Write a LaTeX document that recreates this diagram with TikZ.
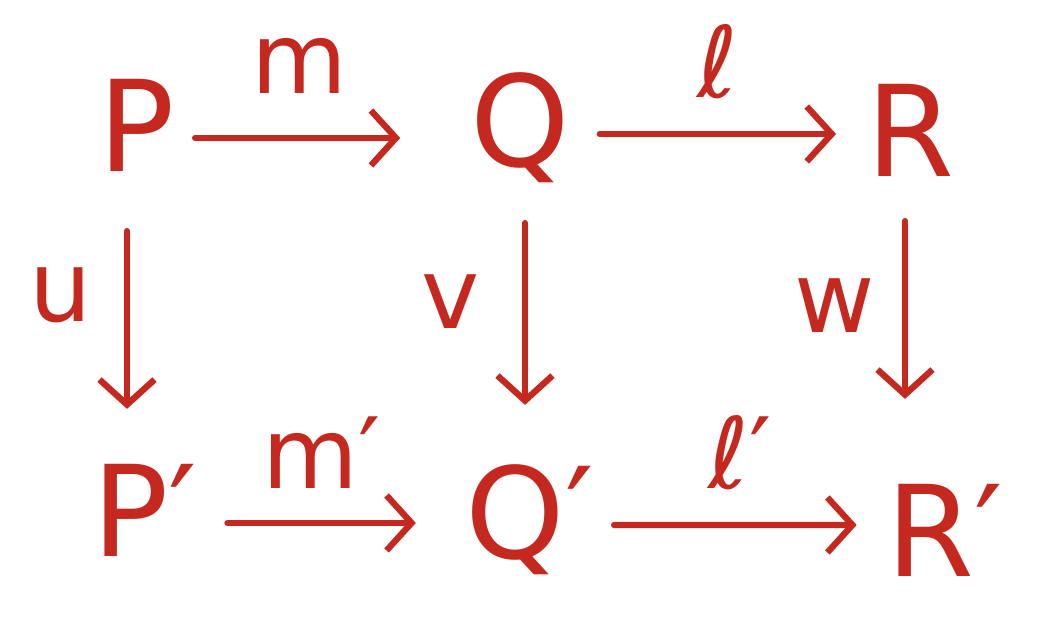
\documentclass[tikz,border=0pt]{standalone}
\usepackage{fontspec}
\setmainfont{DejaVu Sans}
\usetikzlibrary{arrows.meta}
\definecolor{ink}{RGB}{196,40,30}
\begin{document}
\begin{tikzpicture}[
    ink, line width=1.8pt, line cap=round,
    obj/.style={font=\fontsize{36}{40}\selectfont, inner sep=0pt, outer sep=0.3cm},
    lab/.style={font=\fontsize{28}{32}\selectfont},
    map/.style={-{Straight Barb[length=2.5mm,width=5.5mm]}},
]
\useasboundingbox (0,0) rectangle (10.64,6.24);
% objects
\node[obj] (P)  at (1.37,4.99) {P};
\node[obj] (Q)  at (5.20,4.96) {Q};
\node[obj] (R)  at (9.10,4.94) {R};
\node[obj] (P1) at (1.45,1.14) {P′};
\node[obj] (Q1) at (5.30,1.04) {Q′};
\node[obj] (R1) at (9.45,0.94) {R′};
% top row
\draw[map, shorten <=-0.1cm, shorten >=0.4cm] ([yshift=-0.13cm]P.east) -- ([yshift=-0.1cm]Q.west)
    node[lab, pos=0.4, above=0.3cm] {m};
\draw[map] ([yshift=-0.06cm]Q.east) -- ([yshift=-0.04cm]R.west)
    node[lab, midway, above=0.2cm] {ℓ};
% verticals
\draw[map, shorten <=0.3cm, shorten >=0.25cm] ([xshift=-0.1cm]P.south) -- ([xshift=-0.1cm]P.south |- P1.north)
    node[lab, pos=0.4, left=0.2cm] {u};
\draw[map, shorten <=0.1cm, shorten >=0.3cm] ([xshift=0.05cm]Q.south) -- ([xshift=0.05cm]Q.south |- Q1.north)
    node[lab, pos=0.4, left=0.3cm] {v};
\draw[map, shorten <=0.15cm, shorten >=0.55cm] ([xshift=-0.05cm]R.south) -- ([xshift=-0.05cm]R.south |- R1.north)
    node[lab, pos=0.4, left=0.15cm] {w};
% bottom row
\draw[map, shorten >=0.2cm] ([yshift=-0.13cm]P1.east) -- ([yshift=-0.03cm]Q1.west)
    node[lab, pos=0.45, above=0.2cm] {m′};
\draw[map, shorten <=-0.1cm] ([yshift=-0.05cm]Q1.east) -- ([yshift=0.05cm]R1.west)
    node[lab, midway, above=0.2cm] {ℓ′};
\end{tikzpicture}
\end{document}
